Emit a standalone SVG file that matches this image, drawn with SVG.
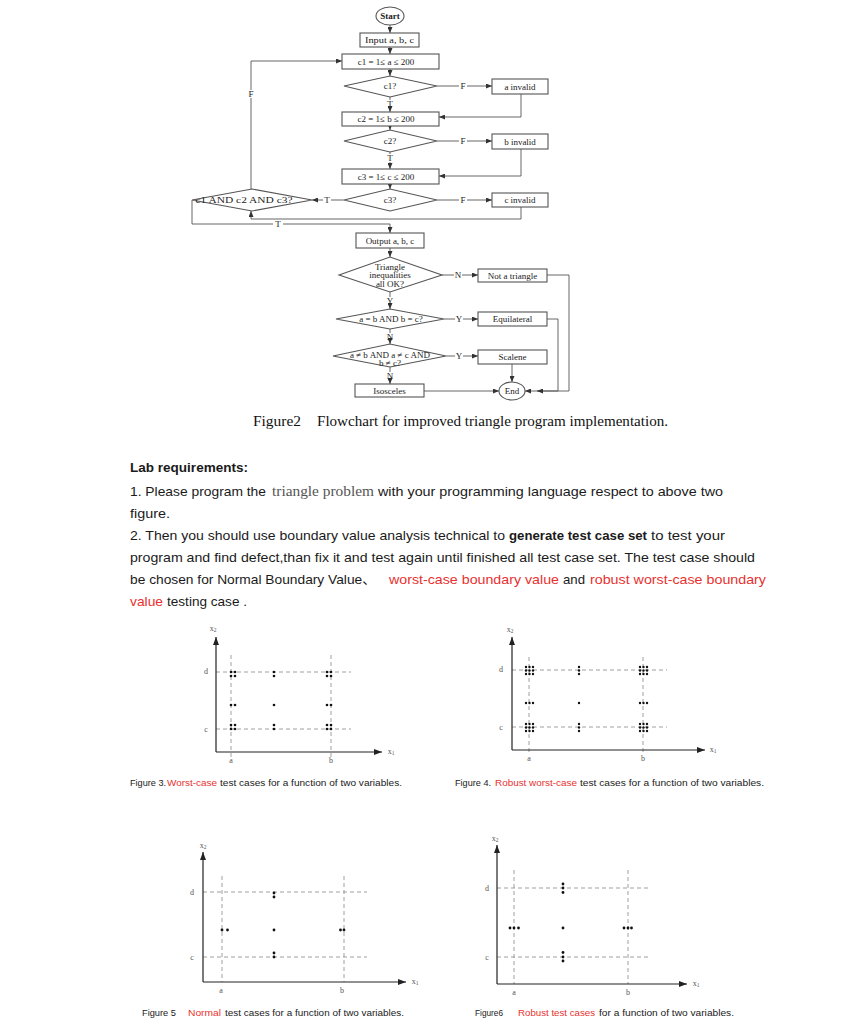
<svg xmlns="http://www.w3.org/2000/svg" width="849" height="1024" viewBox="0 0 849 1024">
<defs>
<style>
.box{fill:#fff;stroke:#555;stroke-width:1.1}
.conn path{fill:none;stroke:#555;stroke-width:0.9}
.ft{font-family:"Liberation Serif",serif;font-size:9px;fill:#222;text-anchor:middle;dominant-baseline:central}
.ax{fill:none;stroke:#222;stroke-width:1.2}
.dash{fill:none;stroke:#888;stroke-width:0.8;stroke-dasharray:4 3}
.al{font-family:"Liberation Serif",serif;font-size:8px;fill:#555;text-anchor:middle;dominant-baseline:central}
.dot{fill:#111}
.body{font-family:"Liberation Sans","Noto Sans CJK SC",sans-serif;font-size:13.5px;fill:#1a1a1a}
.cap{font-family:"Liberation Sans",sans-serif;font-size:9px;fill:#1a1a1a}
.red,.cap.red,.body .red{fill:#e8312f}
</style>
<marker id="arr" markerWidth="6" markerHeight="5" refX="6" refY="2.5" orient="auto" markerUnits="userSpaceOnUse"><path d="M0,0 L6,2.5 L0,5 z" fill="#333"/></marker>
<marker id="arrA" markerWidth="8" markerHeight="6" refX="8" refY="3" orient="auto" markerUnits="userSpaceOnUse"><path d="M0,0 L8,3 L0,6 z" fill="#222"/></marker>
</defs>
<rect width="849" height="1024" fill="#fff"/>

<g id="connectors" class="conn">
<path d="M390,25 V33" marker-end="url(#arr)"/>
<path d="M390,47 V54" marker-end="url(#arr)"/>
<path d="M390,69 V76" marker-end="url(#arr)"/>
<path d="M437,86 H459"/><path d="M467,86 H492" marker-end="url(#arr)"/>
<path d="M521,94 V117 H439" marker-end="url(#arr)"/>
<path d="M390,97 V100"/><path d="M390,108 V112" marker-end="url(#arr)"/>
<path d="M390,126 V130" marker-end="url(#arr)"/>
<path d="M437,141 H459"/><path d="M467,141 H492" marker-end="url(#arr)"/>
<path d="M521,149 V176 H439" marker-end="url(#arr)"/>
<path d="M390,152 V154"/><path d="M390,162 V169" marker-end="url(#arr)"/>
<path d="M390,184 V189" marker-end="url(#arr)"/>
<path d="M437,200 H459"/><path d="M467,200 H492" marker-end="url(#arr)"/>
<path d="M344,200 H331"/><path d="M323,200 H312" marker-end="url(#arr)"/>
<path d="M521,207 V219 H251 V211" marker-end="url(#arr)"/>
<path d="M251,189 V98"/><path d="M251,90 V61 H342" marker-end="url(#arr)"/>
<path d="M192,200 V224 H273"/><path d="M283,224 H390 V233" marker-end="url(#arr)"/>
<path d="M390,248 V257" marker-end="url(#arr)"/>
<path d="M442,275 H454"/><path d="M462,275 H478" marker-end="url(#arr)"/>
<path d="M390,292 V297"/><path d="M390,305 V309" marker-end="url(#arr)"/>
<path d="M444,319 H455"/><path d="M463,319 H478" marker-end="url(#arr)"/>
<path d="M390,329 V333"/><path d="M390,341 V344" marker-end="url(#arr)"/>
<path d="M446,356 H455"/><path d="M463,356 H478" marker-end="url(#arr)"/>
<path d="M390,367 V372"/><path d="M390,380 V384" marker-end="url(#arr)"/>
<path d="M512,364 V382" marker-end="url(#arr)"/>
<path d="M424,391 H499" marker-end="url(#arr)"/>
<path d="M547,319 H558 V391 H525" marker-end="url(#arr)"/>
<path d="M547,275 H569 V391 H537" marker-end="url(#arr)"/>
</g>
<g id="connector-labels" class="ft">
<text x="463" y="86">F</text>
<text x="390" y="104">T</text>
<text x="463" y="141">F</text>
<text x="390" y="158">T</text>
<text x="463" y="200">F</text>
<text x="327" y="200">T</text>
<text x="251" y="94">F</text>
<text x="278" y="224">T</text>
<text x="458" y="275">N</text>
<text x="390" y="301">Y</text>
<text x="459" y="319">Y</text>
<text x="390" y="337">N</text>
<text x="459" y="356">Y</text>
<text x="390" y="376">N</text>
</g>

<g id="start"><ellipse class="box" cx="390" cy="16" rx="14" ry="9"/><text class="ft" x="390" y="16" font-weight="bold" font-size="8.5">Start</text></g>
<g id="input"><rect class="box" x="360" y="33" width="59" height="14"/><text class="ft" x="389.5" y="40" textLength="49" lengthAdjust="spacingAndGlyphs">Input a, b, c</text></g>
<g id="c1"><rect class="box" x="342" y="54" width="97" height="15"/><text class="ft" x="386" y="61.5">c1  = 1≤ a ≤ 200</text></g>
<g id="c1q"><polygon class="box" points="344,86 390,76 437,86 390,97"/><text class="ft" x="390" y="86">c1?</text></g>
<g id="ainv"><rect class="box" x="492" y="79" width="56" height="15"/><text class="ft" x="520" y="86.5">a invalid</text></g>
<g id="c2"><rect class="box" x="342" y="112" width="97" height="14"/><text class="ft" x="386" y="119">c2  = 1≤ b ≤ 200</text></g>
<g id="c2q"><polygon class="box" points="344,141 390,130 437,141 390,152"/><text class="ft" x="390" y="141">c2?</text></g>
<g id="binv"><rect class="box" x="492" y="134" width="56" height="15"/><text class="ft" x="520" y="141.5">b invalid</text></g>
<g id="c3"><rect class="box" x="342" y="169" width="97" height="15"/><text class="ft" x="386" y="176.5">c3  = 1≤ c ≤ 200</text></g>
<g id="c3q"><polygon class="box" points="344,200 390,189 437,200 390,211"/><text class="ft" x="390" y="200">c3?</text></g>
<g id="cinv"><rect class="box" x="492" y="193" width="56" height="14"/><text class="ft" x="520" y="200">c invalid</text></g>
<g id="all"><polygon class="box" points="192,200 252,189 312,200 252,211"/><text class="ft" x="244" y="200" font-size="9.5" textLength="97" lengthAdjust="spacingAndGlyphs">c1 AND c2 AND c3?</text></g>
<g id="output"><rect class="box" x="356" y="233" width="68" height="15"/><text class="ft" x="390" y="240.5">Output a, b, c</text></g>
<g id="tri"><polygon class="box" points="339,275 390,257 442,275 390,292"/><text class="ft" x="390" y="266.5">Triangle</text><text class="ft" x="390" y="275">inequalities</text><text class="ft" x="390" y="283.5">all OK?</text></g>
<g id="nottri"><rect class="box" x="478" y="269" width="69" height="13"/><text class="ft" x="512.5" y="275.5">Not a triangle</text></g>
<g id="eq"><polygon class="box" points="336,319 390,309 444,319 390,329"/><text class="ft" x="391" y="319">a = b AND b = c?</text></g>
<g id="equi"><rect class="box" x="478" y="312" width="69" height="14"/><text class="ft" x="512.5" y="319">Equilateral</text></g>
<g id="sc"><polygon class="box" points="333,356 390,344 446,356 390,367"/><text class="ft" x="390" y="355">a ≠ b AND a ≠ c AND</text><text class="ft" x="390" y="363">b ≠ c?</text></g>
<g id="scal"><rect class="box" x="478" y="350" width="69" height="14"/><text class="ft" x="512.5" y="357">Scalene</text></g>
<g id="iso"><rect class="box" x="355" y="384" width="69" height="13"/><text class="ft" x="389.5" y="390.5">Isosceles</text></g>
<g id="end"><ellipse class="box" cx="512" cy="391" rx="13" ry="9"/><text class="ft" x="512" y="391">End</text></g>

<g id="fig2-caption" font-family="Liberation Serif, serif" font-size="15" fill="#111">
<text x="253" y="426" textLength="48" lengthAdjust="spacingAndGlyphs">Figure2</text>
<text x="317" y="426" textLength="351" lengthAdjust="spacingAndGlyphs">Flowchart for improved triangle program implementation.</text>
</g>

<g id="requirements" class="body">
<text x="130" y="472" font-weight="bold" textLength="118" lengthAdjust="spacingAndGlyphs">Lab requirements:</text>
<text x="130" y="496" textLength="136" lengthAdjust="spacingAndGlyphs">1. Please program the</text>
<text x="272" y="496" font-family="Liberation Serif, serif" font-size="14" fill="#555" textLength="102" lengthAdjust="spacingAndGlyphs">triangle problem</text>
<text x="378" y="496" textLength="345" lengthAdjust="spacingAndGlyphs">with your programming language respect to above two</text>
<text x="130" y="518" textLength="40" lengthAdjust="spacingAndGlyphs">figure.</text>
<text x="130" y="540" textLength="375" lengthAdjust="spacingAndGlyphs">2. Then you should use boundary value analysis technical to</text>
<text x="509" y="540" font-weight="bold" textLength="138" lengthAdjust="spacingAndGlyphs">generate test case set</text>
<text x="651" y="540" textLength="74" lengthAdjust="spacingAndGlyphs">to test your</text>
<text x="130" y="562" textLength="625" lengthAdjust="spacingAndGlyphs">program and find defect,than fix it and test again until finished all test case set. The test case should</text>
<text x="130" y="584" textLength="246" lengthAdjust="spacingAndGlyphs">be chosen for Normal Boundary Value、</text>
<text x="389" y="584" class="red" textLength="170" lengthAdjust="spacingAndGlyphs">worst-case boundary value</text>
<text x="563" y="584" textLength="22" lengthAdjust="spacingAndGlyphs">and</text>
<text x="590" y="584" class="red" textLength="176" lengthAdjust="spacingAndGlyphs">robust worst-case boundary</text>
<text x="130" y="606" class="red" textLength="33" lengthAdjust="spacingAndGlyphs">value</text>
<text x="167" y="606" textLength="80" lengthAdjust="spacingAndGlyphs">testing case .</text>
</g>

<g id="fig3">
<path class="dash" d="M231,655 V757 M331,655 V757 M216,672 H351 M216,729 H351"/>
<path class="ax" d="M216,752 V637" marker-end="url(#arrA)"/>
<path class="ax" d="M216,752 H382" marker-end="url(#arrA)"/>
<text class="al" x="213" y="628">x<tspan font-size="5.5" dy="2">2</tspan></text>
<text class="al" x="391" y="751">x<tspan font-size="5.5" dy="2">1</tspan></text>
<text class="al" x="206" y="671">d</text><text class="al" x="206" y="729">c</text>
<text class="al" x="231" y="760">a</text><text class="al" x="331" y="760">b</text>
<g class="dot">
<circle cx="231" cy="672" r="1.3"/><circle cx="235" cy="672" r="1.3"/><circle cx="274" cy="672" r="1.3"/><circle cx="327" cy="672" r="1.3"/><circle cx="331" cy="672" r="1.3"/>
<circle cx="231" cy="676" r="1.3"/><circle cx="235" cy="676" r="1.3"/><circle cx="274" cy="676" r="1.3"/><circle cx="327" cy="676" r="1.3"/><circle cx="331" cy="676" r="1.3"/>
<circle cx="231" cy="705" r="1.3"/><circle cx="235" cy="705" r="1.3"/><circle cx="274" cy="705" r="1.3"/><circle cx="327" cy="705" r="1.3"/><circle cx="331" cy="705" r="1.3"/>
<circle cx="231" cy="725" r="1.3"/><circle cx="235" cy="725" r="1.3"/><circle cx="274" cy="725" r="1.3"/><circle cx="327" cy="725" r="1.3"/><circle cx="331" cy="725" r="1.3"/>
<circle cx="231" cy="729" r="1.3"/><circle cx="235" cy="729" r="1.3"/><circle cx="274" cy="729" r="1.3"/><circle cx="327" cy="729" r="1.3"/><circle cx="331" cy="729" r="1.3"/>
</g>
<text class="cap" x="130" y="786" textLength="36" lengthAdjust="spacingAndGlyphs">Figure 3.</text>
<text class="cap red" x="167" y="786" textLength="50" lengthAdjust="spacingAndGlyphs">Worst-case</text>
<text class="cap" x="220" y="786" textLength="182" lengthAdjust="spacingAndGlyphs">test cases for a function of two variables.</text>
</g>

<g id="fig4">
<path class="dash" d="M529,657 V755 M643,657 V755 M512,670 H667 M512,727 H667"/>
<path class="ax" d="M512,750 V637" marker-end="url(#arrA)"/>
<path class="ax" d="M512,750 H705" marker-end="url(#arrA)"/>
<text class="al" x="510" y="629">x<tspan font-size="5.5" dy="2">2</tspan></text>
<text class="al" x="713" y="749">x<tspan font-size="5.5" dy="2">1</tspan></text>
<text class="al" x="501" y="669">d</text><text class="al" x="501" y="727">c</text>
<text class="al" x="529" y="758">a</text><text class="al" x="643" y="758">b</text>
<g class="dot">
<circle cx="526" cy="667" r="1.2"/><circle cx="529.5" cy="667" r="1.2"/><circle cx="533" cy="667" r="1.2"/><circle cx="579" cy="667" r="1.2"/><circle cx="640" cy="667" r="1.2"/><circle cx="643.5" cy="667" r="1.2"/><circle cx="647" cy="667" r="1.2"/>
<circle cx="526" cy="670.5" r="1.2"/><circle cx="529.5" cy="670.5" r="1.2"/><circle cx="533" cy="670.5" r="1.2"/><circle cx="579" cy="670.5" r="1.2"/><circle cx="640" cy="670.5" r="1.2"/><circle cx="643.5" cy="670.5" r="1.2"/><circle cx="647" cy="670.5" r="1.2"/>
<circle cx="526" cy="674" r="1.2"/><circle cx="529.5" cy="674" r="1.2"/><circle cx="533" cy="674" r="1.2"/><circle cx="579" cy="674" r="1.2"/><circle cx="640" cy="674" r="1.2"/><circle cx="643.5" cy="674" r="1.2"/><circle cx="647" cy="674" r="1.2"/>
<circle cx="526" cy="703" r="1.2"/><circle cx="529.5" cy="703" r="1.2"/><circle cx="533" cy="703" r="1.2"/><circle cx="579" cy="703" r="1.2"/><circle cx="640" cy="703" r="1.2"/><circle cx="643.5" cy="703" r="1.2"/><circle cx="647" cy="703" r="1.2"/>
<circle cx="526" cy="724" r="1.2"/><circle cx="529.5" cy="724" r="1.2"/><circle cx="533" cy="724" r="1.2"/><circle cx="579" cy="724" r="1.2"/><circle cx="640" cy="724" r="1.2"/><circle cx="643.5" cy="724" r="1.2"/><circle cx="647" cy="724" r="1.2"/>
<circle cx="526" cy="727.5" r="1.2"/><circle cx="529.5" cy="727.5" r="1.2"/><circle cx="533" cy="727.5" r="1.2"/><circle cx="579" cy="727.5" r="1.2"/><circle cx="640" cy="727.5" r="1.2"/><circle cx="643.5" cy="727.5" r="1.2"/><circle cx="647" cy="727.5" r="1.2"/>
<circle cx="526" cy="731" r="1.2"/><circle cx="529.5" cy="731" r="1.2"/><circle cx="533" cy="731" r="1.2"/><circle cx="579" cy="731" r="1.2"/><circle cx="640" cy="731" r="1.2"/><circle cx="643.5" cy="731" r="1.2"/><circle cx="647" cy="731" r="1.2"/>
</g>
<text class="cap" x="455" y="786" textLength="36" lengthAdjust="spacingAndGlyphs">Figure 4.</text>
<text class="cap red" x="495" y="786" textLength="82" lengthAdjust="spacingAndGlyphs">Robust worst-case</text>
<text class="cap" x="580" y="786" textLength="184" lengthAdjust="spacingAndGlyphs">test cases for a function of two variables.</text>
</g>

<g id="fig5">
<path class="dash" d="M222,876 V982 M344,876 V982 M203,892 H367 M203,957 H367"/>
<path class="ax" d="M203,982 V852" marker-end="url(#arrA)"/>
<path class="ax" d="M203,982 H406" marker-end="url(#arrA)"/>
<text class="al" x="203" y="845">x<tspan font-size="5.5" dy="2">2</tspan></text>
<text class="al" x="415" y="981">x<tspan font-size="5.5" dy="2">1</tspan></text>
<text class="al" x="192" y="892">d</text><text class="al" x="192" y="957">c</text>
<text class="al" x="221" y="990">a</text><text class="al" x="342" y="990">b</text>
<g class="dot">
<circle cx="222" cy="930" r="1.4"/><circle cx="227.5" cy="930" r="1.4"/><circle cx="274" cy="930" r="1.4"/><circle cx="340.5" cy="930" r="1.4"/><circle cx="344" cy="930" r="1.4"/>
<circle cx="274" cy="893" r="1.4"/><circle cx="274" cy="897" r="1.4"/><circle cx="274" cy="953" r="1.4"/><circle cx="274" cy="957" r="1.4"/>
</g>
<text class="cap" x="142" y="1016" textLength="34" lengthAdjust="spacingAndGlyphs">Figure 5</text>
<text class="cap red" x="188" y="1016" textLength="33" lengthAdjust="spacingAndGlyphs">Normal</text>
<text class="cap" x="225" y="1016" textLength="179" lengthAdjust="spacingAndGlyphs">test cases for a function of two variables.</text>
</g>

<g id="fig6">
<path class="dash" d="M514,870 V984 M628,870 V984 M497,888 H650 M497,957 H650"/>
<path class="ax" d="M497,984 V845" marker-end="url(#arrA)"/>
<path class="ax" d="M497,984 H687" marker-end="url(#arrA)"/>
<text class="al" x="495" y="838">x<tspan font-size="5.5" dy="2">2</tspan></text>
<text class="al" x="696" y="983">x<tspan font-size="5.5" dy="2">1</tspan></text>
<text class="al" x="487" y="888">d</text><text class="al" x="487" y="957">c</text>
<text class="al" x="514" y="992">a</text><text class="al" x="628" y="992">b</text>
<g class="dot">
<circle cx="510" cy="928" r="1.4"/><circle cx="514" cy="928" r="1.4"/><circle cx="518.5" cy="928" r="1.4"/><circle cx="563" cy="928" r="1.4"/><circle cx="624" cy="928" r="1.4"/><circle cx="628" cy="928" r="1.4"/><circle cx="631.5" cy="928" r="1.4"/>
<circle cx="563" cy="884" r="1.4"/><circle cx="563" cy="888" r="1.4"/><circle cx="563" cy="892.5" r="1.4"/><circle cx="563" cy="952.5" r="1.4"/><circle cx="563" cy="957" r="1.4"/><circle cx="563" cy="961" r="1.4"/>
</g>
<text class="cap" x="475" y="1016" textLength="28" lengthAdjust="spacingAndGlyphs">Figure6</text>
<text class="cap red" x="518" y="1016" textLength="77" lengthAdjust="spacingAndGlyphs">Robust test cases</text>
<text class="cap" x="599" y="1016" textLength="135" lengthAdjust="spacingAndGlyphs">for a function of two variables.</text>
</g>
</svg>
